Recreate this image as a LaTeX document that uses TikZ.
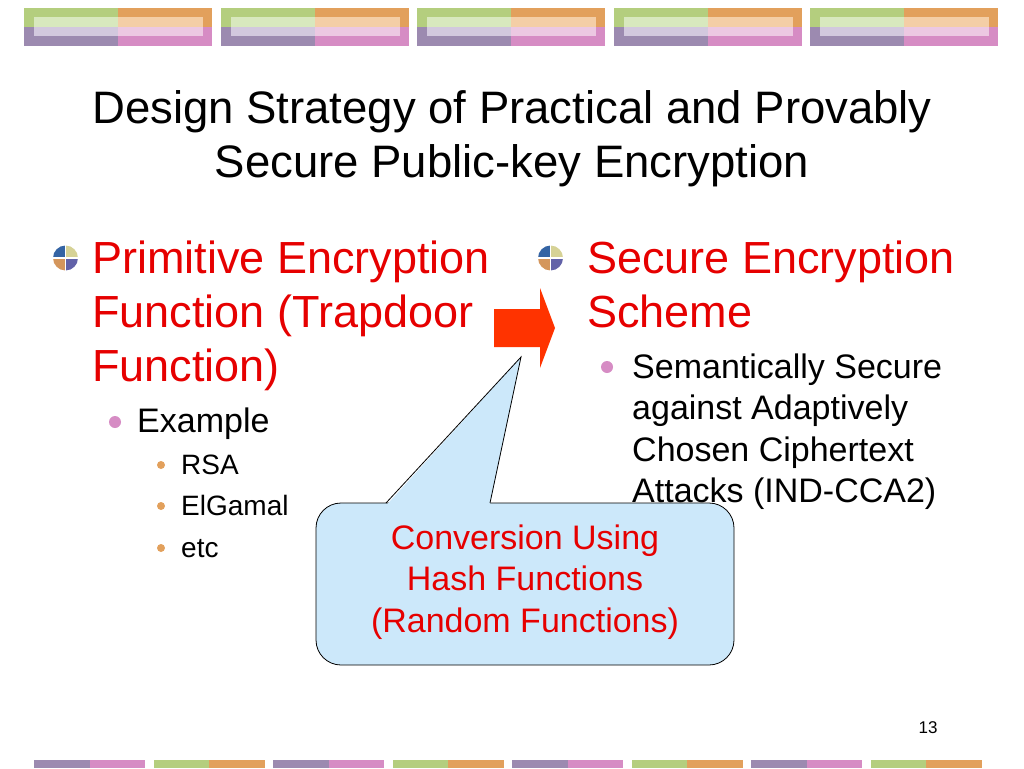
\documentclass[tikz,border=0pt]{standalone}
\usepackage{fontspec}
\setmainfont{Liberation Sans}
\begin{document}
\begin{tikzpicture}[x=1pt,y=-1pt,
  txt/.style={anchor=base west,inner sep=0},
  ctxt/.style={anchor=base,inner sep=0},
  dot/.style={circle,inner sep=0,minimum size=#1}]
\definecolor{gA}{RGB}{180,206,126}
\definecolor{oA}{RGB}{226,160,92}
\definecolor{pA}{RGB}{156,138,176}
\definecolor{kA}{RGB}{214,140,196}
\definecolor{gL}{RGB}{216,232,190}
\definecolor{oL}{RGB}{244,206,166}
\definecolor{pL}{RGB}{210,200,222}
\definecolor{kL}{RGB}{236,200,226}
\definecolor{hred}{RGB}{230,0,0}
\definecolor{arr}{RGB}{255,51,0}
\definecolor{calfill}{RGB}{204,232,250}
\definecolor{q1}{RGB}{52,100,164}
\definecolor{q2}{RGB}{214,210,150}
\definecolor{q3}{RGB}{212,150,92}
\definecolor{q4}{RGB}{98,98,168}
\useasboundingbox (0,0) rectangle (1024,768);
% top bars
\foreach \x in {24,220.5,417,613.5,810}{
  \fill[gA] (\x,8) rectangle ++(94,19);
  \fill[oA] (\x+94,8) rectangle ++(94,19);
  \fill[pA] (\x,27) rectangle ++(94,19);
  \fill[kA] (\x+94,27) rectangle ++(94,19);
  \fill[gL] (\x+10,17) rectangle (\x+94,27);
  \fill[oL] (\x+94,17) rectangle (\x+179,27);
  \fill[pL] (\x+10,27) rectangle (\x+94,36);
  \fill[kL] (\x+94,27) rectangle (\x+179,36);
}
% bottom bars
\foreach \i in {0,...,7}{
  \pgfmathsetmacro\x{34+119.5*\i}
  \ifodd\i
    \fill[gA] (\x,760) rectangle ++(55.5,8);
    \fill[oA] (\x+55.5,760) rectangle ++(55.5,8);
  \else
    \fill[pA] (\x,760) rectangle ++(55.5,8);
    \fill[kA] (\x+55.5,760) rectangle ++(55.5,8);
  \fi
}
% title
\node[ctxt,font=\fontsize{45.5}{54}\selectfont] (title1) at (512,123) {Design Strategy of Practical and Provably};
\node[ctxt,font=\fontsize{45.5}{54}\selectfont] (title2) at (512,177) {Secure Public-key Encryption};
% bullet icons
\foreach \cx/\nm in {65.5/iconL,550.5/iconR}{
  \coordinate (\nm) at (\cx,258);
  \begin{scope}
  \clip (\cx,258) circle (12.5);
  \fill[q1] (\cx-13,245) rectangle (\cx-0.8,257.2);
  \fill[q2] (\cx+0.8,245) rectangle (\cx+13,257.2);
  \fill[q3] (\cx-13,258.8) rectangle (\cx-0.8,271);
  \fill[q4] (\cx+0.8,258.8) rectangle (\cx+13,271);
  \end{scope}
}
% arrow
\fill[arr] (494,309) -- (540,309) -- (540,288) -- (555,328) -- (540,368) -- (540,347) -- (494,347) -- cycle;
% callout
\coordinate (tip) at (521,357);
\path[fill=calfill,draw=black,line width=0.8pt,rounded corners=25pt] (316,503) rectangle (734,665);
\fill[calfill] (387,504.5) -- (tip) -- (490,504.5) -- cycle;
\draw[line width=0.8pt] (386,503) -- (tip) -- (490,503);
\foreach \y/\t/\n in {549/Conversion Using/a,590/Hash Functions/b,632/(Random Functions)/c}
  \node[ctxt,text=hred,font=\fontsize{34}{41}\selectfont] (conv\n) at (525,\y) {\t};
% left column
\foreach \y/\t/\n in {273/Primitive Encryption/a,327/Function (Trapdoor/b,381/Function)/c}
  \node[txt,text=hred,font=\fontsize{45}{54}\selectfont] (prim\n) at (92,\y) {\t};
\node[dot=12pt,fill=kA] (d1) at (115,422) {};
\node[txt,font=\fontsize{34}{41}\selectfont] (ex) at (137,432) {Example};
\foreach \y/\t/\n in {474/RSA/a,515/ElGamal/b,557/etc/c}{
  \node[dot=8pt,fill=oA] (od\n) at (161,\y-9) {};
  \node[txt,font=\fontsize{28}{30}\selectfont] (t\n) at (181,\y) {\t};
}
% right column
\foreach \y/\t/\n in {273/Secure Encryption/a,327/Scheme/b}
  \node[txt,text=hred,font=\fontsize{45}{54}\selectfont] (sec\n) at (587,\y) {\t};
\node[dot=12pt,fill=kA] (d2) at (607,367) {};
\foreach \y/\t/\n in {378/Semantically Secure/a,419/against Adaptively/b,461/Chosen Ciphertext/c,502/Attacks (IND-CCA2)/d}
  \node[txt,font=\fontsize{34}{41}\selectfont] (sem\n) at (632,\y) {\t};
\node[ctxt,font=\fontsize{17}{20}\selectfont] (pg) at (928,733) {13};
\end{tikzpicture}
\end{document}
